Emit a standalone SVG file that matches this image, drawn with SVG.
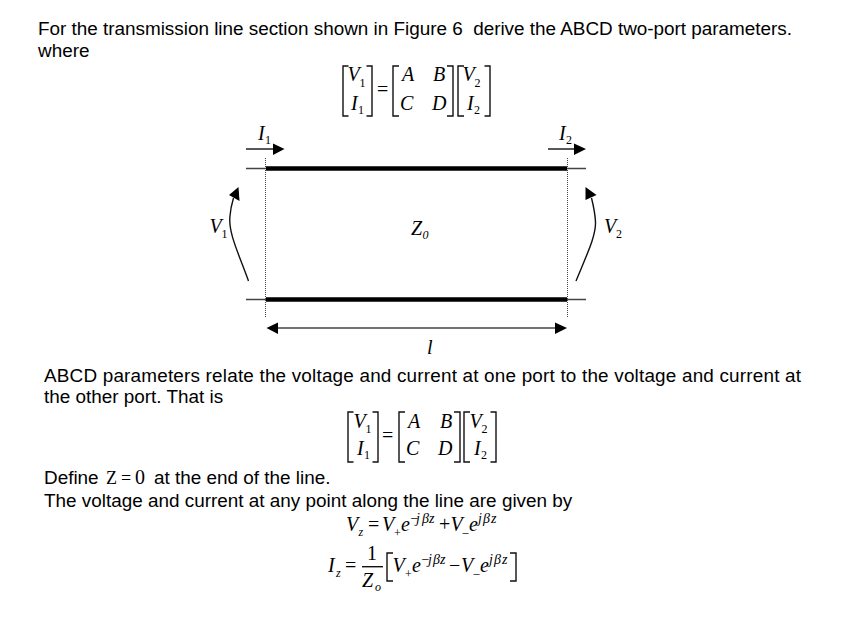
<svg xmlns="http://www.w3.org/2000/svg" width="858" height="635" viewBox="0 0 858 635">
<style>
.t{font-family:"Liberation Sans",Arial,sans-serif;font-size:18.9px;fill:#000}
.m{font-family:"Liberation Serif","Times New Roman",serif;font-style:italic;font-size:20px;fill:#000}
.n{font-family:"Liberation Serif","Times New Roman",serif;font-size:20px;fill:#000}
.s{font-style:normal;font-size:12px}
.si{font-style:italic;font-size:12px}
.sp{font-style:italic;font-size:14px}
.b{fill:none;stroke:#111;stroke-width:1.4}
.thick{stroke:#000;stroke-width:4.5;fill:none}
.thin{stroke:#444;stroke-width:1.5;fill:none}
.dot{stroke:#444;stroke-width:1;stroke-dasharray:1 1;fill:none}
.wire{stroke:#111;stroke-width:1.4;fill:none}
</style>
<rect width="858" height="635" fill="#fff"/>
<g id="text-top">
<text class="t" x="38" y="35" xml:space="preserve" textLength="754">For the transmission line section shown in Figure 6  derive the ABCD two-port parameters.</text>
<text class="t" x="38" y="57">where</text>
</g>
<g id="matrix-1">
<path class="b" d="M348.500 66H343V116H348.500M366.500 66H372V116H366.500M399 66H393V116H399M447 66H453V116H447M464 66H458V116H464M484.500 66H490V116H484.500"/>
<text class="m" x="347.500" y="81">V<tspan class="s" x="359.500" y="87">1</tspan></text>
<text class="m" x="351" y="110">I<tspan class="s" x="358" y="114">1</tspan></text>
<text class="n" x="377" y="96">=</text>
<text class="m" x="402" y="81">A</text><text class="m" x="433" y="81">B</text>
<text class="m" x="400" y="110">C</text><text class="m" x="432" y="110">D</text>
<text class="m" x="462.500" y="81">V<tspan class="s" x="474.500" y="87">2</tspan></text>
<text class="m" x="467" y="110">I<tspan class="s" x="474" y="114">2</tspan></text>
</g>
<g id="connectors">
<path class="thick" d="M266 168.500H567M266 299.500H567"/>
<path class="thin" d="M246 168.500H266M246 299.500H266M567 168.500H586M567 299.500H586"/>
<path class="dot" d="M265.500 158V317M567.500 158V317"/>
<path class="wire" d="M246 149H274"/><path d="M273 143.500L284.500 149L273 155Z"/>
<path class="wire" d="M548 149H576"/><path d="M574 143.500L586 149L574 155Z"/>
<path class="thin" d="M276 328H557"/>
<path d="M266.500 328L278 322.500V334Z"/><path d="M567 328L555 322.500V334Z"/>
<path class="wire" d="M248.500 281C238 252 228 232 230 216C230.500 208 232 203 233.500 198"/>
<path d="M238.500 187L229 195L239.500 201Z"/>
<path class="wire" d="M576 281C587 254 596 236 595.500 222C595 212 593 204 591.500 198"/>
<path d="M585.500 187L596.500 195L585.500 200Z"/>
</g>
<g id="label-I1"><text class="m" x="258" y="140">I<tspan class="s" x="265" y="144">1</tspan></text></g>
<g id="label-I2"><text class="m" x="559" y="140">I<tspan class="s" x="566" y="144">2</tspan></text></g>
<g id="label-V1"><text class="m" x="209.500" y="233">V<tspan class="s" x="221.500" y="238">1</tspan></text></g>
<g id="label-V2"><text class="m" x="604" y="233">V<tspan class="s" x="616" y="238">2</tspan></text></g>
<g id="label-Z0"><text class="m" x="411" y="235">Z<tspan class="si" x="422.500" y="239">0</tspan></text></g>
<g id="label-l"><text class="m" x="427" y="354">l</text></g>
<g id="text-middle">
<text class="t" x="44" y="382" textLength="757">ABCD parameters relate the voltage and current at one port to the voltage and current at</text>
<text class="t" x="44" y="403">the other port. That is</text>
</g>
<g id="matrix-2">
<path class="b" d="M353.500 412H348V462H353.500M372.500 412H378V462H372.500M405 412H399V462H405M454 412H460V462H454M470 412H464V462H470M490.500 412H496V462H490.500"/>
<text class="m" x="353.500" y="428">V<tspan class="s" x="365.500" y="433">1</tspan></text>
<text class="m" x="357" y="455">I<tspan class="s" x="364" y="459">1</tspan></text>
<text class="n" x="382" y="442">=</text>
<text class="m" x="408" y="428">A</text><text class="m" x="440" y="428">B</text>
<text class="m" x="406" y="455">C</text><text class="m" x="438" y="455">D</text>
<text class="m" x="469.500" y="428">V<tspan class="s" x="481.500" y="433">2</tspan></text>
<text class="m" x="474" y="455">I<tspan class="s" x="481" y="459">2</tspan></text>
</g>
<g id="text-bottom">
<text class="t" x="44" y="484">Define</text>
<text class="n" x="106" y="484" style="font-size:18px">Z</text>
<text class="n" x="121" y="484" style="font-size:18px">=</text>
<text class="n" x="135" y="484">0</text>
<text class="t" x="154" y="484">at the end of the line.</text>
<text class="t" x="44" y="507">The voltage and current at any point along the line are given by</text>
</g>
<g id="equation-v">
<text class="m" x="346" y="531">V<tspan class="si" x="358.500" y="536">z</tspan></text>
<text class="n" x="368" y="531">=</text>
<text class="m" x="382" y="531">V<tspan class="s" x="394" y="537">+</tspan><tspan x="401" y="531">e</tspan><tspan class="sp" x="409.500 416 422 429" y="523">−jβz</tspan></text>
<text class="n" x="439" y="531">+</text>
<text class="m" x="450.500" y="531">V<tspan class="s" x="462.500" y="532">_</tspan><tspan x="469" y="531">e</tspan><tspan class="sp" x="478 483 491" y="523">jβz</tspan></text>
</g>
<g id="equation-i">
<text class="m" x="328" y="572">I<tspan class="si" x="336" y="577">z</tspan></text>
<text class="n" x="345" y="572">=</text>
<text class="n" x="367" y="560">1</text>
<path class="b" d="M362 566.700H383"/>
<text class="m" x="362" y="587">Z<tspan class="si" x="375" y="591">o</tspan></text>
<path class="b" d="M393 553H387V581H393M510 553H516V581H510"/>
<text class="m" x="392.500" y="572">V<tspan class="s" x="405" y="578">+</tspan><tspan x="412" y="572">e</tspan><tspan class="sp" x="420.500 428 433 440" y="564">−jβz</tspan></text>
<text class="n" x="449" y="572">−</text>
<text class="m" x="461" y="572">V<tspan class="s" x="473.500" y="573">_</tspan><tspan x="480" y="572">e</tspan><tspan class="sp" x="489 494 502" y="564">jβz</tspan></text>
</g>
</svg>
